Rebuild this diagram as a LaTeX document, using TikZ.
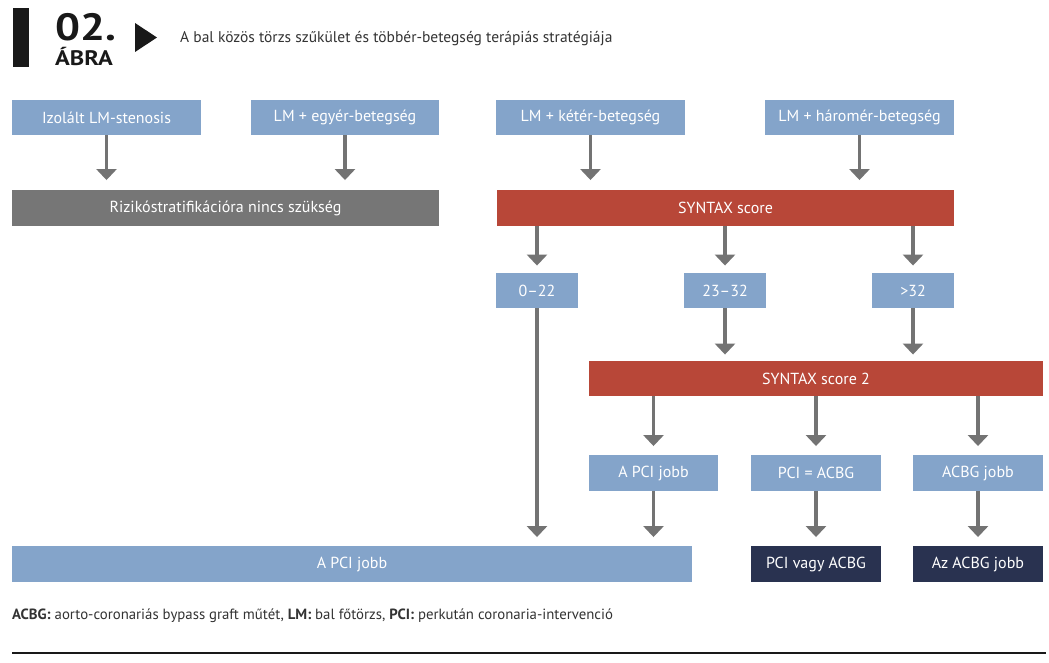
\documentclass[tikz,border=0pt]{standalone}
\usepackage{fontspec}
\setmainfont{PT Sans}
\newfontfamily\headfont[FakeStretch=1.16]{PT Sans}
\usetikzlibrary{arrows.meta}
\definecolor{lblue}{HTML}{84A4CA}
\definecolor{mgray}{HTML}{767676}
\definecolor{sred}{HTML}{B84738}
\definecolor{navy}{HTML}{293250}
\definecolor{agray}{HTML}{737373}
\definecolor{txt}{HTML}{333333}
\tikzset{
  box/.style={rectangle, fill=lblue, text=white, minimum height=35.5pt, inner sep=0pt,
    font=\fontsize{16}{18}\selectfont},
  graybox/.style={box, fill=mgray},
  redbox/.style={box, fill=sred},
  navybox/.style={box, fill=navy},
  arr/.style={draw=agray, line width=3.5pt, -{Triangle[width=20pt,length=11pt]}, shorten >=9pt},
  plain/.style={anchor=base west, inner sep=0pt, text=txt}
}
\begin{document}
\begin{tikzpicture}[x=1pt,y=-1pt]
\useasboundingbox[fill=white] (0,0) rectangle (1049,663);
% header
\fill[black!90] (13,8) rectangle (29,67);
\node[plain, font=\headfont\fontsize{38}{38}\bfseries\selectfont, text=black!90] (num) at (55,41) {02.};
\node[plain, font=\headfont\fontsize{21}{21}\bfseries\selectfont, text=black!90] (abra) at (55,66) {ÁBRA};
\fill[black!90] (135,23) -- (157,37.5) -- (135,52) -- cycle;
\node[plain, font=\fontsize{15.5}{17}\selectfont] (title) at (180,43) {A bal közös törzs szűkület és többér-betegség terápiás stratégiája};
% row 1
\node[box, minimum width=189pt] (n1) at (106.5,117.5) {Izolált LM-stenosis};
\node[box, minimum width=188pt] (n2) at (345,117.5) {LM + egyér-betegség};
\node[box, minimum width=189pt] (n3) at (590.5,117.5) {LM + kétér-betegség};
\node[box, minimum width=189pt] (n4) at (859.5,117.5) {LM + háromér-betegség};
% row 2
\node[graybox, minimum width=427pt] (g) at (225.5,208) {Rizikóstratifikációra nincs szükség};
\node[redbox, minimum width=457pt] (s1) at (725.5,208) {SYNTAX score};
% row 3
\node[box, minimum width=82pt] (r1) at (537,290.5) {0–22};
\node[box, minimum width=82pt] (r2) at (725,290.5) {23–32};
\node[box, minimum width=82pt] (r3) at (913,290.5) {>32};
% row 4
\node[redbox, minimum width=454pt] (s2) at (816,378.5) {SYNTAX score 2};
% row 5
\node[box, minimum width=129pt] (o1) at (653.5,473) {A PCI jobb};
\node[box, minimum width=130pt] (o2) at (816,473) {PCI = ACBG};
\node[box, minimum width=130pt] (o3) at (978,473) {ACBG jobb};
% row 6
\node[box, minimum width=680pt] (f1) at (352,564) {A PCI jobb};
\node[navybox, minimum width=130pt] (f2) at (816,564) {PCI vagy ACBG};
\node[navybox, minimum width=130pt] (f3) at (978,564) {Az ACBG jobb};
% arrows
\draw[arr, shorten >=10pt] (n1) -- (n1 |- g.north);
\draw[arr, shorten >=10pt] (n2) -- (n2 |- g.north);
\draw[arr, shorten >=10pt] (n3) -- (n3 |- s1.north);
\draw[arr, shorten >=10pt] (n4) -- (n4 |- s1.north);
\draw[arr, shorten >=7pt] (r1 |- s1.south) -- (r1);
\draw[arr, shorten >=7pt] (r2 |- s1.south) -- (r2);
\draw[arr, shorten >=7pt] (r3 |- s1.south) -- (r3);
\draw[arr, shorten >=6pt] (r2) -- (r2 |- s2.north);
\draw[arr, shorten >=6pt] (r3) -- (r3 |- s2.north);
\draw[arr, shorten >=9pt] (o1 |- s2.south) -- (o1);
\draw[arr, shorten >=9pt] (o2 |- s2.south) -- (o2);
\draw[arr, shorten >=9pt] (o3 |- s2.south) -- (o3);
\draw[arr] (r1) -- (r1 |- f1.north);
\draw[arr] (o1) -- (o1 |- f1.north);
\draw[arr] (o2) -- (f2);
\draw[arr] (o3) -- (f3);
% footnote
\node[plain, font=\fontsize{14.8}{16}\selectfont] (foot) at (12,619)
  {\textbf{ACBG:} aorto-coronariás bypass graft műtét, \textbf{LM:} bal főtörzs, \textbf{PCI:} perkután coronaria-intervenció};
\coordinate (rl) at (12,653);
\coordinate (rr) at (1046,653);
\draw[black!90, line width=2.5pt] (rl) -- (rr);
\end{tikzpicture}
\end{document}
